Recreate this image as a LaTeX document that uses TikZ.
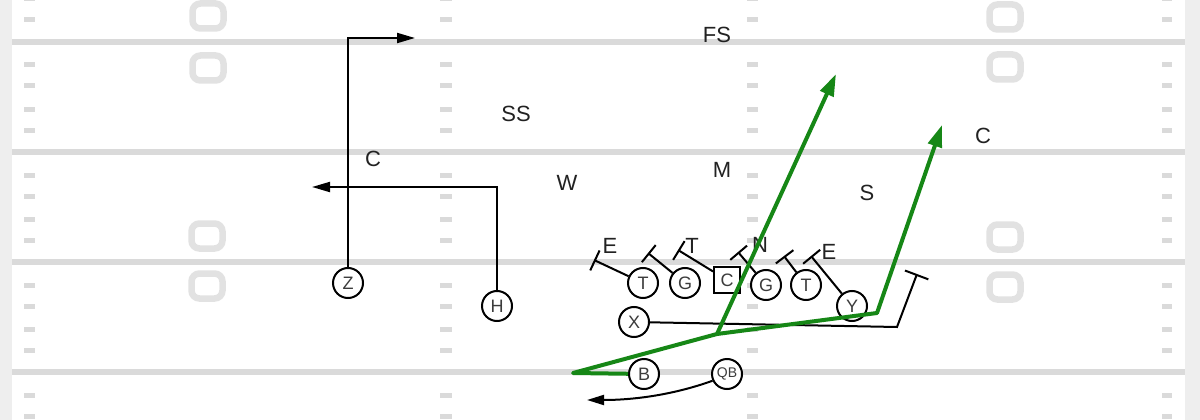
\documentclass[tikz,border=0pt]{standalone}
\usepackage{fontspec}
\setmainfont{Liberation Sans}
\usetikzlibrary{arrows.meta}
\definecolor{fieldline}{RGB}{218,218,218}
\definecolor{zerogray}{RGB}{226,226,226}
\definecolor{sidegray}{RGB}{238,238,238}
\definecolor{routegreen}{RGB}{22,135,22}
\definecolor{labelgray}{RGB}{34,34,34}
\definecolor{lettergray}{RGB}{60,60,60}
\tikzset{
  player/.style={circle, draw=black, line width=2pt, fill=white, minimum size=30pt, inner sep=0pt, font=\fontsize{18}{18}\selectfont, text=lettergray},
  qbplayer/.style={player, font=\fontsize{14}{14}\selectfont},
  centerbox/.style={rectangle, draw=black, line width=2pt, fill=white, minimum size=26pt, inner sep=0pt, font=\fontsize{18}{18}\selectfont, text=lettergray},
  deflabel/.style={font=\fontsize{22}{22}\selectfont, text=labelgray, inner sep=0pt},
  route/.style={line width=2pt, draw=black},
  blocktip/.style={line width=2pt, draw=black, -{Bar[width=22pt]}},
  blacktip/.style={-{Triangle[length=18pt,width=10pt]}},
  greenroute/.style={line width=4pt, draw=routegreen, line join=round, -{Triangle[length=22pt,width=14pt]}},
  yardline/.style={line width=6pt, draw=fieldline},
  zerodigit/.style={draw=zerogray, line width=6.5pt, rounded corners=8pt, minimum width=31pt, minimum height=25pt, inner sep=0pt}
}
\begin{document}
\begin{tikzpicture}[x=1pt,y=-1pt]
\useasboundingbox (0,0) rectangle (1200,420);
\fill[white] (0,0) rectangle (1200,420);
% side strips
\fill[sidegray] (0,0) rectangle (12,420);
\fill[sidegray] (1185,0) rectangle (1200,420);
% yard lines
\foreach \yy in {42,152,262,372} {
  \draw[yardline] (12,\yy) -- (1185,\yy);
}
% hash marks
\foreach \xx/\ww in {24/11,440/12,747/11,1162/10} {
  \foreach \yy in {-1,20,65,86,109,130,175,196,219,240,285,306,329,350,395,416} {
    \fill[fieldline] (\xx,\yy-2.5) rectangle (\xx+\ww,\yy+2.5);
  }
}
% yard numbers (zeros)
\node[zerodigit] (z1) at (208,16) {};
\node[zerodigit] (z2) at (208,68) {};
\node[zerodigit] (z3) at (207,236) {};
\node[zerodigit] (z4) at (207,286) {};
\node[zerodigit] (z5) at (1005,17) {};
\node[zerodigit] (z6) at (1005,67) {};
\node[zerodigit] (z7) at (1005,237) {};
\node[zerodigit] (z8) at (1005,287) {};
% defense labels
\node[deflabel] (FS) at (717,35) {FS};
\node[deflabel] (SS) at (516,114) {SS};
\node[deflabel] (CL) at (373,159) {C};
\node[deflabel] (CR) at (983,136) {C};
\node[deflabel] (M) at (722,170) {M};
\node[deflabel] (W) at (567,183) {W};
\node[deflabel] (S) at (867,193) {S};
\node[deflabel] (EL) at (610,246) {E};
\node[deflabel] (TD) at (692,246) {T};
\node[deflabel] (N) at (760,245) {N};
\node[deflabel] (ER) at (829,252) {E};
% route coordinates
\coordinate (zc) at (348,38);
\coordinate (zend) at (415,38);
\coordinate (hc) at (497,187);
\coordinate (hend) at (312,187);
\coordinate (xbend) at (897,327);
\coordinate (xend) at (917,274);
\coordinate (qbend) at (587,400);
\coordinate (bT1) at (594,260);
\coordinate (bG1) at (648,253);
\coordinate (bC) at (678,250);
\coordinate (bG2) at (738,252);
\coordinate (bT2) at (784,256);
\coordinate (bY) at (811,256);
\coordinate (ga) at (573,373);
\coordinate (gb) at (717,334);
\coordinate (gtip1) at (836,74);
\coordinate (gc) at (877,313);
\coordinate (gtip2) at (942,125);
% players
\node[player] (Z) at (348,283) {Z};
\node[player] (H) at (497,306) {H};
\node[player] (T1) at (643,283) {T};
\node[player] (G1) at (685,283) {G};
\node[centerbox] (C) at (727,280) {C};
\node[player] (G2) at (766,285) {G};
\node[player] (T2) at (806,285) {T};
\node[player] (Y) at (852,306) {Y};
\node[player] (X) at (634,322) {X};
\node[player] (B) at (644,374) {B};
\node[qbplayer] (QB) at (727,374) {QB};
% black routes
\draw[route, blacktip] (Z) -- (zc) -- (zend);
\draw[route, blacktip] (H) -- (hc) -- (hend);
\draw[route, -{Bar[width=25pt]}] (X) -- (xbend) -- (xend);
\draw[route, -{Triangle[length=17pt,width=10pt]}] (QB.205) .. controls (670,396) and (630,400) .. (qbend);
% blocks
\draw[blocktip] (T1) -- (bT1);
\draw[blocktip] (G1) -- (bG1);
\draw[blocktip] (C) -- (bC);
\draw[blocktip] (G2) -- (bG2);
\draw[blocktip] (T2) -- (bT2);
\draw[blocktip] (Y) -- (bY);
% green routes
\draw[greenroute] (B) -- (ga) -- (gb) -- (gtip1);
\draw[greenroute] (gb) -- (gc) -- (gtip2);
\end{tikzpicture}
\end{document}
